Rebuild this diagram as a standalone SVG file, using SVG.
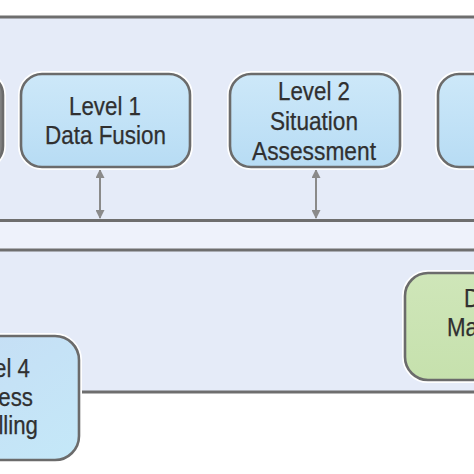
<svg xmlns="http://www.w3.org/2000/svg" width="474" height="474" viewBox="0 0 474 474">
<defs>
<linearGradient id="gBlue" x1="0" y1="0" x2="0" y2="1">
<stop offset="0" stop-color="#cde8f9"/>
<stop offset="1" stop-color="#b7dcf4"/>
</linearGradient>
<linearGradient id="gBlue4" x1="0" y1="0" x2="1" y2="1">
<stop offset="0" stop-color="#c6dcf4"/>
<stop offset="1" stop-color="#c4e8f8"/>
</linearGradient>
<linearGradient id="gGreen" x1="0" y1="0" x2="0" y2="1">
<stop offset="0" stop-color="#cfe6b9"/>
<stop offset="1" stop-color="#c6e1ad"/>
</linearGradient>
<marker id="ah" viewBox="0 0 10 10" refX="9" refY="5" markerWidth="5" markerHeight="4.5" orient="auto-start-reverse">
<path d="M0,0 L10,5 L0,10 Z" fill="#8a8a8a"/>
</marker>
<style>
.glow{fill:none;stroke:#ffffff;stroke-width:6}
.box{stroke:#6b6b6b;stroke-width:2.6}
.t{font-family:"Liberation Sans",Arial,sans-serif;font-size:25px;fill:#303030;stroke:#303030;stroke-width:0.25}
.c{text-anchor:middle}
.hline{stroke:#6e6e6e;stroke-width:3}
.arr{stroke:#8a8a8a;stroke-width:2;fill:none}
</style>
</defs>
<rect width="474" height="474" fill="#ffffff"/>
<g id="panels">
<rect x="0" y="18" width="474" height="202" fill="#e5ebf8"/>
<rect x="0" y="221" width="474" height="29" fill="#eef2fb"/>
<rect x="0" y="251" width="474" height="141" fill="#e5ebf8"/>
<line class="hline" x1="0" y1="17" x2="474" y2="17"/>
<line class="hline" x1="0" y1="220.5" x2="474" y2="220.5"/>
<line class="hline" x1="0" y1="250" x2="474" y2="250"/>
<line class="hline" x1="60" y1="392" x2="474" y2="392"/>
</g>
<g id="connectors">
<line class="arr" x1="100" y1="170" x2="100" y2="218" marker-start="url(#ah)" marker-end="url(#ah)"/>
<line class="arr" x1="316" y1="170" x2="316" y2="218" marker-start="url(#ah)" marker-end="url(#ah)"/>
</g>
<g id="level0">
<rect class="glow" x="-166" y="74" width="169" height="93" rx="21"/>
<rect class="box" x="-166" y="74" width="169" height="93" rx="21" fill="#808080"/>
</g>
<g id="level1">
<rect class="glow" x="21" y="74" width="169" height="93" rx="21"/>
<rect class="box" x="21" y="74" width="169" height="93" rx="21" fill="url(#gBlue)"/>
<text class="t c" x="105" y="114.5" textLength="72" lengthAdjust="spacingAndGlyphs">Level 1</text>
<text class="t c" x="105.5" y="144" textLength="121" lengthAdjust="spacingAndGlyphs">Data Fusion</text>
</g>
<g id="level2">
<rect class="glow" x="230" y="74" width="170" height="93" rx="21"/>
<rect class="box" x="230" y="74" width="170" height="93" rx="21" fill="url(#gBlue)"/>
<text class="t c" x="314" y="100" textLength="72" lengthAdjust="spacingAndGlyphs">Level 2</text>
<text class="t c" x="314" y="130" textLength="88" lengthAdjust="spacingAndGlyphs">Situation</text>
<text class="t c" x="314" y="159.5" textLength="124" lengthAdjust="spacingAndGlyphs">Assessment</text>
</g>
<g id="level3">
<rect class="glow" x="438" y="74" width="170" height="93" rx="21"/>
<rect class="box" x="438" y="74" width="170" height="93" rx="21" fill="url(#gBlue)"/>
</g>
<g id="dbms">
<rect class="glow" x="405" y="273" width="170" height="107" rx="23"/>
<rect class="box" x="405" y="273" width="170" height="107" rx="23" fill="url(#gGreen)"/>
<text class="t" x="464" y="307" textLength="16" lengthAdjust="spacingAndGlyphs">D</text>
<text class="t" x="447" y="336" textLength="31" lengthAdjust="spacingAndGlyphs">Ma</text>
</g>
<g id="level4">
<rect class="glow" x="-92" y="336" width="171" height="124" rx="24"/>
<rect class="box" x="-92" y="336" width="171" height="124" rx="24" fill="url(#gBlue4)"/>
<text class="t" x="-6" y="377" textLength="36" lengthAdjust="spacingAndGlyphs">el 4</text>
<text class="t" x="-1.7" y="405.5" textLength="34.7" lengthAdjust="spacingAndGlyphs">ess</text>
<text class="t" x="-1.6" y="434" textLength="39.6" lengthAdjust="spacingAndGlyphs">lling</text>
</g>
</svg>
